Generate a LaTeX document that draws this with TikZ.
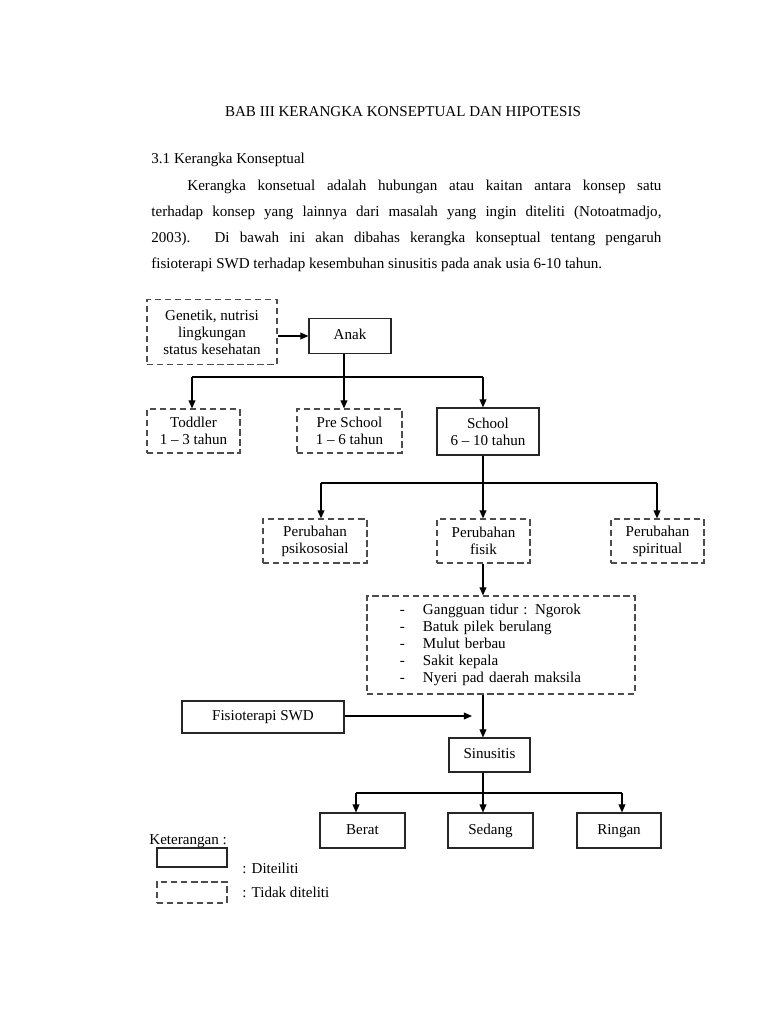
\documentclass[tikz,border=0pt]{standalone}
\usepackage{fontspec}
\setmainfont{Liberation Serif}
\usetikzlibrary{arrows.meta}

\begin{document}
\begin{tikzpicture}[x=0.797pt, y=-0.797pt, >={Triangle[length=6.5pt,width=5.5pt]},
    every node/.style={font=\fontsize{12pt}{13.5pt}\selectfont},
    box/.style 2 args={draw=black!85, line width=0.9pt, align=center, inner sep=0pt,
      minimum width=#1, minimum height=#2},
    dbox/.style 2 args={box={#1}{#2}, draw=black!70, dash pattern=on 5pt off 3pt},
    oneline/.style={text height=8.5pt, text depth=2.5pt},
    link/.style={line width=0.9pt}]
  \useasboundingbox (0,0) rectangle (768,1024);

  % heading and paragraph
  \node[anchor=base] (judul) at (403,116) {BAB III KERANGKA KONSEPTUAL DAN HIPOTESIS};
  \node[anchor=base west] (sub) at (147,163) {3.1 Kerangka Konseptual};
  \node[anchor=base west] (p1) at (183,190) {\makebox[377.8pt][s]{Kerangka konsetual adalah hubungan atau kaitan antara konsep satu}};
  \node[anchor=base west] (p2) at (147,216) {\makebox[406.5pt][s]{terhadap konsep yang lainnya dari masalah yang ingin diteliti (Notoatmadjo,}};
  \node[anchor=base west] (p3) at (147,242) {\makebox[406.5pt][s]{2003). Di bawah ini akan dibahas kerangka konseptual tentang pengaruh}};
  \node[anchor=base west] (p4) at (147,268) {fisioterapi SWD terhadap kesembuhan sinusitis pada anak usia 6-10 tahun.};

  % boxes
  \node[dbox={103.6pt}{51.8pt}] (genetik) at (212,332) {Genetik, nutrisi\\lingkungan\\status kesehatan};
  \node[box={65.4pt}{27.9pt}, oneline] (anak) at (350,336) {Anak};
  \node[dbox={74.1pt}{35.1pt}] (toddler) at (193.5,431) {Toddler\\1 – 3 tahun};
  \node[dbox={83.7pt}{35.1pt}] (pre) at (349.5,431) {Pre School\\1 – 6 tahun};
  \node[box={81.3pt}{37.5pt}] (school) at (488,431.5) {School\\6 – 10 tahun};
  \node[dbox={82.9pt}{35.1pt}] (psiko) at (315,541) {Perubahan\\psikososial};
  \node[dbox={74.1pt}{35.1pt}] (fisik) at (483.5,541) {Perubahan\\fisik};
  \node[dbox={74.1pt}{35.1pt}] (spirit) at (657.5,541) {Perubahan\\spiritual};
  \node[dbox={213.6pt}{78.1pt}, text width=161pt, align=left, inner xsep=26.3pt] (gejala) at (501,645)
    {\makebox[18.3pt][l]{-}Gangguan tidur : Ngorok\\
     \makebox[18.3pt][l]{-}Batuk pilek berulang\\
     \makebox[18.3pt][l]{-}Mulut berbau\\
     \makebox[18.3pt][l]{-}Sakit kepala\\
     \makebox[18.3pt][l]{-}Nyeri pad daerah maksila};
  \node[box={129.1pt}{25.5pt}, oneline] (fisio) at (263,717) {Fisioterapi SWD};
  \node[box={64.6pt}{27.1pt}, oneline] (sinus) at (489.5,755) {Sinusitis};
  \node[box={67.7pt}{27.9pt}, oneline] (berat) at (362.5,830.5) {Berat};
  \node[box={67.7pt}{27.9pt}, oneline] (sedang) at (490.5,830.5) {Sedang};
  \node[box={67pt}{27.9pt}, oneline] (ringan) at (619,830.5) {Ringan};

  % branch points
  \coordinate (t1) at (344,377);
  \coordinate (t1l) at (192,377);
  \coordinate (t1r) at (483,377);
  \coordinate (c1) at (483,483);
  \coordinate (c1l) at (321,483);
  \coordinate (c1r) at (657,483);
  \coordinate (s1) at (483,793);
  \coordinate (s1l) at (356,793);
  \coordinate (s1r) at (622,793);
  \coordinate (fend) at (472,716);

  \draw[link, ->] (genetik.east |- anak.west) -- (anak.west);
  \draw[link] (anak.south -| t1) -- (t1);
  \draw[link] (t1l) -- (t1r);
  \draw[link, ->] (t1l) -- (t1l |- toddler.north);
  \draw[link, ->] (t1) -- (t1 |- pre.north);
  \draw[link, ->] (t1r) -- (t1r |- school.north);

  \draw[link] (school.south -| c1) -- (c1);
  \draw[link] (c1l) -- (c1r);
  \draw[link, ->] (c1l) -- (c1l |- psiko.north);
  \draw[link, ->] (c1) -- (c1 |- fisik.north);
  \draw[link, ->] (c1r) -- (c1r |- spirit.north);

  \draw[link, ->] (fisik.south -| c1) -- (gejala.north -| c1);
  \draw[link, ->] (gejala.south -| c1) -- (sinus.north -| c1);
  \draw[link, ->] (fisio.east |- fend) -- (fend);

  \draw[link] (sinus.south -| s1) -- (s1);
  \draw[link] (s1l) -- (s1r);
  \draw[link, ->] (s1l) -- (s1l |- berat.north);
  \draw[link, ->] (s1) -- (s1 |- sedang.north);
  \draw[link, ->] (s1r) -- (s1r |- ringan.north);

  % legend
  \node[anchor=base west] (ket) at (145,844) {Keterangan :};
  \node[box={55.8pt}{15.1pt}, fill=white] (lg1) at (192,857.5) {};
  \node[dbox={55.8pt}{16.7pt}] (lg2) at (192,892.5) {};
  \node[anchor=base west] (ket1) at (238,873) {: Diteiliti};
  \node[anchor=base west] (ket2) at (238,897) {: Tidak diteliti};
\end{tikzpicture}
\end{document}
